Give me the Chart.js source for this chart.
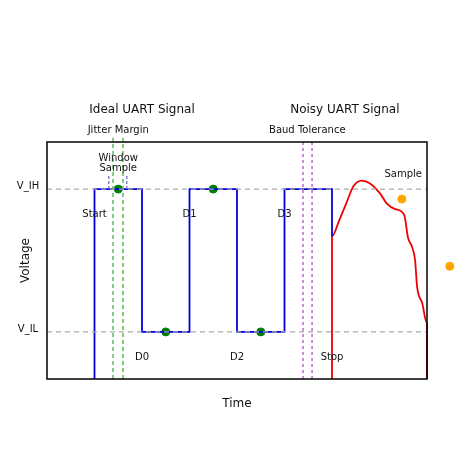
<!DOCTYPE html>
<html><head><meta charset="utf-8">
<script src="https://cdn.jsdelivr.net/npm/chart.js@4"></script>
<style>body{margin:0;background:#fff}#c{width:474px;height:474px}</style>
</head><body><div id="c"><canvas id="chart"></canvas></div>
<script>
// ideal square wave (bit boundaries on x, V_IL=0, V_IH=1)
const idealX = [1, 1, 2, 2, 3, 3, 4, 4, 5, 5, 6, 6];
const idealY = [-0.33, 1, 1, 0, 0, 1, 1, 0, 0, 1, 1, 0.67];
// noisy stop bit
const noisyX = [6, 6, 6.15, 6.3, 6.45, 6.63, 6.8, 7.01, 7.15, 7.33, 7.52, 7.6, 7.68, 7.75, 7.79, 7.9, 8, 8];
const noisyY = [-0.33, 0.67, 0.78, 0.9, 1.02, 1.06, 1.04, 0.97, 0.9, 0.86, 0.82, 0.66, 0.6, 0.5, 0.32, 0.2, 0.06, -0.33];
const samplesX = [1.5, 2.5, 3.5, 4.5];
const samplesY = [1, 0, 1, 0];
const noisySamplesX = [7.47, 8.48];
const noisySamplesY = [0.93, 0.46];
const jitterX = [1.39, 1.6];
const windowX = [1.3, 1.68];
const baudX = [5.39, 5.58];
const bitLabels = ["Start", "D0", "D1", "D2", "D3", "Stop"];
const bitLabelX = [1, 2, 3, 4, 5, 6];
const bitLabelY = [0.82, -0.18, 0.82, -0.18, 0.82, -0.18];

const pts = (xs, ys) => xs.map((x, i) => ({x, y: ys[i]}));
const vline = (x, y0, y1) => [{x, y: y0}, {x, y: y1}];

const datasets = [
  {data: pts([0, 8], [1, 1]), borderColor: '#aaa', borderDash: [5, 4], borderWidth: 1.2},
  {data: pts([0, 8], [0, 0]), borderColor: '#aaa', borderDash: [5, 4], borderWidth: 1.2},
  ...jitterX.map(x => ({data: vline(x, -0.33, 1.36), borderColor: '#3a3', borderDash: [4, 3], borderWidth: 1.2})),
  ...windowX.map(x => ({data: vline(x, 1, 1.1), borderColor: '#66c', borderDash: [3, 2], borderWidth: 1.2})),
  ...baudX.map(x => ({data: vline(x, -0.33, 1.33), borderColor: '#a4b', borderDash: [3, 3], borderWidth: 1.2})),
  {data: pts(idealX, idealY), borderColor: '#0000dd', borderWidth: 1.8},
  {data: pts(noisyX, noisyY), borderColor: '#e00', borderWidth: 1.8, tension: 0.3, cubicInterpolationMode: 'monotone'},
  {data: pts(samplesX, samplesY), type: 'scatter', backgroundColor: 'green', borderColor: 'green', pointRadius: 4},
  {data: pts(noisySamplesX, noisySamplesY), type: 'scatter', backgroundColor: 'orange', borderColor: 'orange', pointRadius: 4},
];
datasets.forEach(d => { d.clip = false; if (!d.type) { d.pointRadius = 0; d.fill = false; } });

const texts = {
  id: 'texts',
  afterDraw(chart) {
    const c = chart.ctx, xs = chart.scales.x, ys = chart.scales.y, a = chart.chartArea;
    const X = v => xs.getPixelForValue(v), Y = v => ys.getPixelForValue(v);
    c.save();
    c.strokeStyle = '#000'; c.lineWidth = 1.5;
    c.strokeRect(X(0), a.top, X(8) - X(0), a.bottom - a.top);
    c.fillStyle = '#111'; c.textAlign = 'center'; c.textBaseline = 'middle';
    c.font = '12px "DejaVu Sans"';
    c.fillText('Ideal UART Signal', X(2), 110);
    c.fillText('Noisy UART Signal', X(6.27), 110);
    c.fillText('Time', (X(0) + X(8)) / 2, 404);
    c.font = '10px "DejaVu Sans"';
    c.fillText('Jitter Margin', X(1.5), 130);
    c.fillText('Baud Tolerance', X(5.48), 130);
    c.fillText('Window', X(1.5), 158);
    c.fillText('Sample', X(1.5), 168);
    c.fillText('Sample', X(7.5), Y(1.1));
    bitLabels.forEach((t, i) => c.fillText(t, X(bitLabelX[i]), Y(bitLabelY[i])));
    c.fillText('V_IH', 28, Y(1.02));
    c.fillText('V_IL', 28, Y(0.02));
    c.font = '12px "DejaVu Sans"';
    c.translate(26, (a.top + a.bottom) / 2); c.rotate(-Math.PI / 2);
    c.fillText('Voltage', 0, 0);
    c.restore();
  }
};

new Chart(document.getElementById('chart'), {
  type: 'line',
  data: {datasets},
  options: {
    responsive: true, maintainAspectRatio: false, animation: false,
    layout: {padding: {left: 47, right: 18.5, top: 142, bottom: 95}},
    plugins: {legend: {display: false}, tooltip: {enabled: false}},
    scales: {
      x: {type: 'linear', min: 0, max: 8.6, display: false},
      y: {type: 'linear', min: -0.33, max: 1.33, display: false}
    }
  },
  plugins: [texts]
});
</script></body></html>
